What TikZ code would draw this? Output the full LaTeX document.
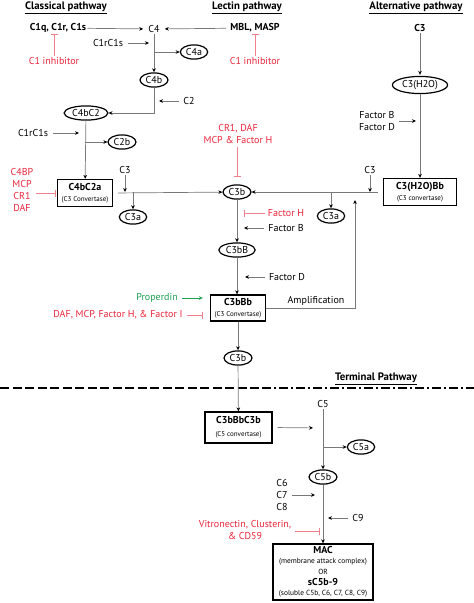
\documentclass[tikz,border=0pt]{standalone}
\usepackage{fontspec}
\setmainfont{PT Sans}
\usetikzlibrary{arrows.meta,shapes.geometric}
\definecolor{redt}{RGB}{232,38,59}
\definecolor{pinkl}{RGB}{240,128,140}
\definecolor{greent}{RGB}{30,160,80}
\definecolor{lineg}{RGB}{120,120,120}
\begin{document}
\begin{tikzpicture}[x=1pt,y=-1pt,
  tx/.style={inner sep=1pt,font=\fontsize{10}{12}\selectfont},
  bt/.style={inner sep=1pt,font=\fontsize{10}{12}\selectfont\bfseries},
  ttl/.style={inner sep=1pt,font=\fontsize{10.8}{12}\selectfont\bfseries},
  rt/.style={inner sep=1pt,text=redt,align=center,font=\fontsize{10}{12}\selectfont},
  gt/.style={inner sep=1pt,text=greent,font=\fontsize{10}{12}\selectfont},
  ell/.style={ellipse,draw=black,line width=1.2pt,inner xsep=1.6pt,inner ysep=1.4pt,font=\fontsize{10}{11}\selectfont},
  cbox/.style={draw=black,line width=1.3pt,align=center,inner sep=1pt},
  arr/.style={draw=lineg,line width=0.7pt,-{Stealth[length=4pt,width=3.6pt,color=black]}},
  garr/.style={draw=greent,line width=0.7pt,-{Stealth[length=4pt,width=3.6pt]}},
  inh/.style={draw=pinkl,line width=0.7pt,-{Bar[width=7pt]}},
  ln/.style={draw=lineg,line width=0.7pt}]
\useasboundingbox (0,0) rectangle (474,603);

% titles
\node[ttl] (tcl) at (66,8) {\underline{Classical pathway}};
\node[ttl] (tle) at (247,8) {\underline{Lectin pathway}};
\node[ttl] (tal) at (416,8) {\underline{Alternative pathway}};

% classical / lectin top
\node[bt] (c1q) at (58,28) {C1q, C1r, C1s};
\node[tx] (c4) at (154,29) {C4};
\node[bt] (mbl) at (255,28) {MBL, MASP};
\draw[arr,shorten >=4pt] (c1q) -- (c4);
\draw[arr,shorten <=3pt,shorten >=4pt] (mbl) -- (c4);
\node[rt] (inh1) at (54,61) {C1 inhibitor};
\draw[inh] (inh1.north) -- (inh1.north |- c1q.south);
\node[rt] (inh2) at (255,61) {C1 inhibitor};
\draw[inh] (inh2.north) -- (inh2.north |- mbl.south);

\node[tx] (c1rc1s) at (108,43) {C1rC1s};
\coordinate (j1) at (154,43);
\draw[arr,shorten <=4pt,shorten >=5pt] (c1rc1s) -- (j1);
\node[ell] (c4b) at (154,80) {C4b};
\node[ell] (c4a) at (194,52) {C4a};
\draw[arr] (c4) -- (c4b);
\coordinate (j2) at (154,52);
\draw[arr] (j2) -- (c4a);

\node[ell] (c4bc2) at (86,113) {C4bC2};
\draw[arr] (c4b) |- (c4bc2);
\node[tx] (c2) at (189,101) {C2};
\coordinate (j3) at (154,101);
\draw[arr,shorten <=3pt,shorten >=5pt] (c2) -- (j3);

\node[cbox,minimum width=55pt,minimum height=27pt] (box1) at (85,193)
  {{\fontsize{10}{11}\selectfont\bfseries C4bC2a}\\[-1pt]{\fontsize{7}{7}\selectfont (C3 Convertase)}};
\draw[arr] (c4bc2) -- (box1);
\node[tx] (c1rc1sb) at (33,133) {C1rC1s};
\coordinate (j4) at (85,133);
\draw[arr,shorten <=4pt,shorten >=6pt] (c1rc1sb) -- (j4);
\node[ell] (c2b) at (122,142) {C2b};
\coordinate (j5) at (85,142);
\draw[arr] (j5) -- (c2b);

\node[rt] (reg1) at (22,190) {C4BP\\MCP\\CR1\\DAF};
\draw[inh,shorten <=2pt,shorten >=1pt] (reg1.east |- box1.west) -- (box1.west);

% C3b centre
\node[ell] (c3b) at (237,192) {C3b};
\node[tx] (c3l) at (125,170) {C3};
\draw[arr,shorten <=5pt] (box1.east) -- (c3b);
\coordinate (j6) at (125,192);
\draw[arr] (c3l) -- (j6);
\coordinate (j7) at (133,192);
\node[ell] (c3a1) at (133,217) {C3a};
\draw[arr] (j7) -- (c3a1);

\node[rt] (reg2) at (238,134) {CR1, DAF\\MCP \& Factor H};
\draw[inh,shorten <=2pt,shorten >=8pt] (reg2.south -| c3b) -- (c3b.north);

% alternative
\node[bt] (c3t) at (420,28) {C3};
\node[ell] (c3h) at (420,85) {C3(H2O)};
\draw[arr,shorten >=1pt] (c3t) -- (c3h);
\node[cbox,minimum width=73pt,minimum height=27pt] (box3) at (420,192)
  {{\fontsize{10}{11}\selectfont\bfseries C3(H2O)Bb}\\[-1pt]{\fontsize{7}{7}\selectfont (C3 convertase)}};
\draw[arr] (c3h) -- (box3);
\node[tx,align=center] (fbd) at (377,121) {Factor B\\Factor D};
\coordinate (j8) at (420,121);
\draw[arr,shorten <=3pt,shorten >=4pt] (fbd) -- (j8);

\draw[arr,shorten <=5pt] (box3.west) -- (c3b);
\node[tx] (c3r) at (370,170) {C3};
\coordinate (j9) at (370,192);
\draw[arr] (c3r) -- (j9);
\coordinate (j10) at (331,192);
\node[ell] (c3a2) at (331,216) {C3a};
\draw[arr] (j10) -- (c3a2);

% C3bB, C3bBb
\node[ell] (c3bB) at (237,250) {C3bB};
\draw[arr] (c3b) -- (c3bB);
\node[rt] (fh) at (286,213) {Factor H};
\coordinate (j11) at (237,213);
\draw[inh,shorten <=2pt,shorten >=7pt] (fh) -- (j11);
\node[tx] (fb) at (286,228) {Factor B};
\coordinate (j12) at (237,228);
\draw[arr,shorten <=3pt,shorten >=7pt] (fb) -- (j12);

\node[cbox,minimum width=55pt,minimum height=26pt] (box2) at (238,308)
  {{\fontsize{10}{11}\selectfont\bfseries C3bBb}\\[-1pt]{\fontsize{7}{7}\selectfont (C3 Convertase)}};
\draw[arr] (c3bB) -- (c3bB |- box2.north);
\node[tx] (fd) at (287,277) {Factor D};
\coordinate (j13) at (237,277);
\draw[arr,shorten <=3pt,shorten >=8pt] (fd) -- (j13);

\node[gt] (prop) at (157,298) {Properdin};
\draw[garr,shorten <=3pt,shorten >=7pt] (prop) -- (prop -| box2.west);
\node[rt] (reg3) at (118,315) {DAF, MCP, Factor H, \& Factor I};
\draw[inh,shorten <=3pt,shorten >=7pt] (reg3) -- (reg3 -| box2.west);

\coordinate (amp) at (355,200);
\draw[arr] (box2.east) -| (amp);
\node[tx] (amplab) at (316,301) {Amplification};

\node[ell] (c3b2) at (238,358) {C3b};
\draw[arr] (box2) -- (c3b2);

% terminal divider
\draw[line width=1.2pt,dash pattern=on 9pt off 3.5pt] (0,388) -- (262,388);
\draw[line width=1.2pt,dash pattern=on 9pt off 3pt on 2pt off 3pt] (262,388) -- (474,388);
\node[ttl] (tterm) at (376,379) {\underline{Terminal Pathway}};

\node[cbox,minimum width=67pt,minimum height=31pt] (box4) at (238.5,427.5)
  {{\fontsize{10}{11}\selectfont\bfseries C3bBbC3b}\\[1pt]{\fontsize{7}{7}\selectfont (C5 convertase)}};
\draw[arr] (c3b2) -- (box4);

\node[tx] (c5) at (323,404) {C5};
\coordinate (j14) at (323,428);
\draw[arr,shorten <=5pt,shorten >=10pt] (box4.east) -- (j14);
\node[ell] (c5b) at (323,477) {C5b};
\draw[arr] (c5) -- (c5b);
\coordinate (j15) at (323,447);
\node[ell] (c5a) at (361,447) {C5a};
\draw[arr] (j15) -- (c5a);

\node[tx,align=center] (c678) at (282,495) {C6\\C7\\C8};
\coordinate (j16) at (323,495);
\draw[arr,shorten <=3pt,shorten >=8pt] (c678) -- (j16);
\node[tx] (c9) at (358,518) {C9};
\coordinate (j17) at (323,518);
\draw[arr,shorten <=3pt,shorten >=5pt] (c9) -- (j17);
\node[rt] (reg4) at (245,530) {Vitronectin, Clusterin,\\\& CD59};
\coordinate (j18) at (323,531);
\draw[inh,shorten <=3pt,shorten >=3pt] (reg4.east |- j18) -- (j18);

\node[cbox,minimum width=100pt,minimum height=56pt,inner sep=0.5pt] (mac) at (323,572)
  {{\fontsize{10}{11}\selectfont\bfseries MAC}\\[-2pt]
   {\fontsize{7.4}{8}\selectfont (membrane attack complex)}\\[-1pt]
   {\fontsize{7.4}{8}\selectfont OR}\\[-1pt]
   {\fontsize{10}{11}\selectfont\bfseries sC5b-9}\\[-2pt]
   {\fontsize{7.4}{8}\selectfont (soluble C5b, C6, C7, C8, C9)}};
\draw[arr] (c5b) -- (mac);
\end{tikzpicture}
\end{document}
